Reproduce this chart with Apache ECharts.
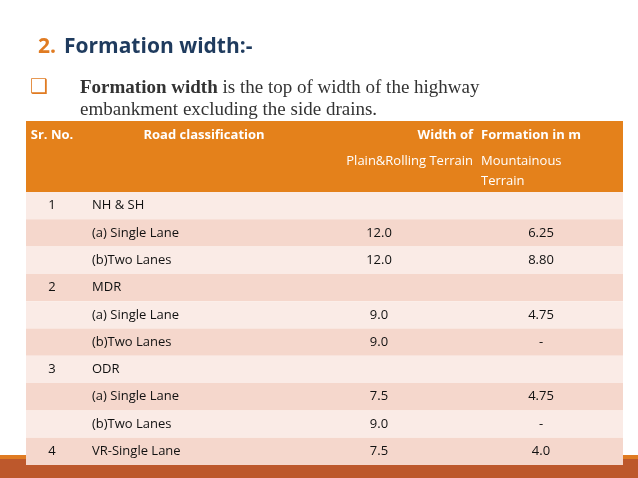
<!DOCTYPE html>
<html><head><meta charset="utf-8">
<script src="https://cdn.jsdelivr.net/npm/echarts@6/dist/echarts.min.js"></script>
<style>html,body{margin:0;padding:0;background:#fff}#c{width:638px;height:478px}</style>
</head><body><div id="c"></div>
<script>
const srNo = ['1', '', '', '2', '', '', '3', '', '', '4'];
const roadClass = ['NH & SH', '(a) Single Lane', '(b)Two Lanes', 'MDR', '(a) Single Lane', '(b)Two Lanes', 'ODR', '(a) Single Lane', '(b)Two Lanes', 'VR-Single Lane'];
const plainWidth = ['', '12.0', '12.0', '', '9.0', '9.0', '', '7.5', '9.0', '7.5'];
const mountainWidth = ['', '6.25', '8.80', '', '4.75', '-', '', '4.75', '-', '4.0'];

const chart = echarts.init(document.getElementById('c'));
const font = '"Open Sans", "Noto Sans", sans-serif';
const left = 26, right = 623, headTop = 121, headBottom = 192, rowH = 27.3;
const els = [];

// bottom band
els.push({ type: 'rect', shape: { x: 0, y: 455, width: 638, height: 4 }, style: { fill: '#E07B22' } });
els.push({ type: 'rect', shape: { x: 0, y: 459, width: 638, height: 19 }, style: { fill: '#BD582C' } });

// title
els.push({ type: 'text', x: 38, y: 47, style: { text: '2.', font: 'bold 21px ' + font, fill: '#E07B22', verticalAlign: 'middle' } });
els.push({ type: 'text', x: 64, y: 47, style: { text: 'Formation width:-', font: 'bold 21px ' + font, fill: '#1F3B5E', verticalAlign: 'middle' } });
els.push({ type: 'text', x: 30, y: 88, style: { text: '❑', font: '20px "DejaVu Sans"', fill: '#E07B22', verticalAlign: 'middle' } });
els.push({ type: 'text', x: 80, y: 88, style: { rich: { b: { font: 'bold 19px "Liberation Serif"', fill: '#333' }, n: { font: '19px "Liberation Serif"', fill: '#333' } },
    text: '{b|Formation width}{n| is the top of width of the highway}', verticalAlign: 'middle' } });
els.push({ type: 'text', x: 80, y: 110, style: { text: 'embankment excluding the side drains.', font: '19px "Liberation Serif"', fill: '#333', verticalAlign: 'middle' } });

// header
els.push({ type: 'rect', shape: { x: left, y: headTop, width: right - left, height: headBottom - headTop }, style: { fill: '#E4811B' } });
const hw = { font: 'bold 13px ' + font, fill: '#fff', verticalAlign: 'middle' };
const hn = { font: '13px ' + font, fill: '#fff', verticalAlign: 'middle' };
els.push({ type: 'text', x: 52, y: 135, style: Object.assign({ text: 'Sr. No.', align: 'center' }, hw) });
els.push({ type: 'text', x: 204, y: 135, style: Object.assign({ text: 'Road classification', align: 'center' }, hw) });
els.push({ type: 'text', x: 473, y: 135, style: Object.assign({ text: 'Width of', align: 'right' }, hw) });
els.push({ type: 'text', x: 481, y: 135, style: Object.assign({ text: 'Formation in m', align: 'left' }, hw) });
els.push({ type: 'text', x: 473, y: 161, style: Object.assign({ text: 'Plain&Rolling Terrain', align: 'right' }, hn) });
els.push({ type: 'text', x: 481, y: 161, style: Object.assign({ text: 'Mountainous', align: 'left' }, hn) });
els.push({ type: 'text', x: 481, y: 181, style: Object.assign({ text: 'Terrain', align: 'left' }, hn) });

// rows
const cell = { font: '13px ' + font, fill: '#111', verticalAlign: 'middle' };
roadClass.forEach((name, i) => {
    const y = headBottom + i * rowH;
    const cy = y + rowH / 2;
    els.push({ type: 'rect', shape: { x: left, y, width: right - left, height: rowH }, style: { fill: i % 2 ? '#F5D7CC' : '#FAEBE6' } });
    els.push({ type: 'text', x: 52, y: cy, style: Object.assign({ text: srNo[i], align: 'center' }, cell) });
    els.push({ type: 'text', x: 92, y: cy, style: Object.assign({ text: name, align: 'left' }, cell) });
    els.push({ type: 'text', x: 379, y: cy, style: Object.assign({ text: plainWidth[i], align: 'center' }, cell) });
    els.push({ type: 'text', x: 541, y: cy, style: Object.assign({ text: mountainWidth[i], align: 'center' }, cell) });
});

chart.setOption({ backgroundColor: '#fff', animation: false, graphic: { elements: els } });
</script></body></html>
